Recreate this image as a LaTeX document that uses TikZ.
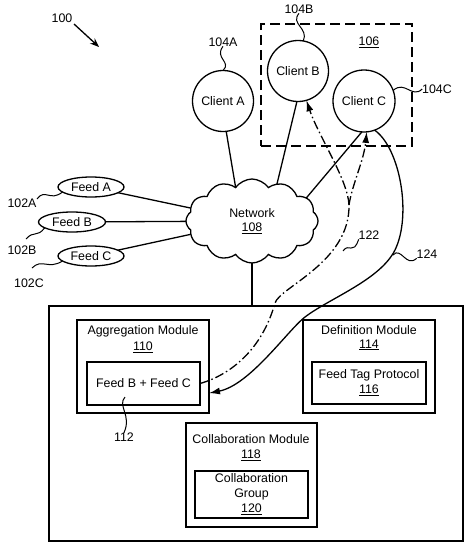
\documentclass[tikz,border=0pt]{standalone}
\usepackage{fontspec}
\setmainfont{Liberation Sans}
\usetikzlibrary{shapes.geometric,shapes.symbols,arrows.meta}
\begin{document}
\begin{tikzpicture}[x=1pt,y=-1pt,
  line width=1.3pt,
  every node/.style={font=\fontsize{12.4}{15}\selectfont, inner sep=0pt, outer sep=0pt},
  box/.style={draw, rectangle, line width=1.3pt},
  client/.style={draw, circle, minimum size=61pt},
  feed/.style={draw, ellipse, minimum width=66pt, minimum height=20pt},
  lead/.style={line width=1pt},
  dd/.style={dash pattern=on 9pt off 3pt on 1.5pt off 3pt},
  tip/.style={-{Latex[length=11pt,width=7pt]}}
]
\useasboundingbox (0,0) rectangle (474,554);

% label 100 and arrow
\node (l100) at (62,18) {100};
\coordinate (s100) at (74,24);
\coordinate (e100) at (99,47);
\draw[-{Stealth[length=9pt,width=7pt]}] (s100) -- (e100);

% dashed group 106
\node[box, dash pattern=on 10pt off 5pt, minimum width=151pt, minimum height=122pt] (g106) at (336.5,85) {};
\node (l106) at (369,42) {\underline{106}};

% clients
\node[client] (clientA) at (223,101) {Client A};
\node[client] (clientB) at (298,71) {Client B};
\node[client, minimum size=62pt] (clientC) at (364,101) {Client C};

\node (l104A) at (223,42) {104A};
\node (l104B) at (299,9) {104B};
\node (l104C) at (437,89) {104C};
\draw[lead] (l104A.south) .. controls (214,58) and (232,62) .. (clientA.north);
\draw[lead] (l104B.south) .. controls (290,24) and (309,28) .. (clientB.80);
\draw[lead] (clientC.20) .. controls (405,80) and (412,99) .. (l104C.west);

% network cloud
\node[cloud, draw, cloud puffs=12, cloud puff arc=110, aspect=1.6, minimum width=132pt, minimum height=84pt] (network) at (252,221) {};
\node (tnet) at (252,213) {Network};
\node (t108) at (252,228) {\underline{108}};

% feeds
\node[feed] (feedA) at (91,187) {Feed A};
\node[feed, minimum width=67pt] (feedB) at (72,222) {Feed B};
\node[feed] (feedC) at (91,256) {Feed C};

\node (l102A) at (22,203) {102A};
\node (l102B) at (22,250) {102B};
\node (l102C) at (29,283) {102C};
\coordinate (s102A) at (37,199);
\coordinate (s102B) at (26,239);
\coordinate (s102C) at (32,268);
\draw[lead] (s102A) .. controls (45,188) and (50,202) .. (feedA.190);
\draw[lead] (s102B) .. controls (34,230) and (37,238) .. (feedB.192);
\draw[lead] (s102C) .. controls (42,258) and (48,270) .. (feedC.190);

% connections to network
\draw (feedA) -- (network);
\draw (feedB) -- (network);
\draw (feedC) -- (network);
\draw (clientA.276) -- (network.116);
\draw (clientB.268) -- (network.56);
\draw (clientC.266) -- (network.23);

% main box and modules
\node[box, minimum width=414pt, minimum height=235pt] (main) at (256,423.5) {};
\draw (network.south) -- (network.south |- main.north);

\node[box, minimum width=132pt, minimum height=93pt] (agg) at (143,366.5) {};
\node (tagg) at (143,331) {Aggregation Module};
\node (t110) at (143,347) {\underline{110}};
\node[box, minimum width=113pt, minimum height=43pt] (feedbc) at (143.5,383.5) {Feed B + Feed C};

\node[box, minimum width=132pt, minimum height=93pt] (def) at (369,366.5) {};
\node (tdef) at (369,330) {Definition Module};
\node (t114) at (369,345) {\underline{114}};
\node[box, minimum width=114pt, minimum height=42pt, align=center] (ftp) at (369,383) {Feed Tag Protocol\\\underline{116}};

\node[box, minimum width=131pt, minimum height=104pt] (collab) at (251.5,475) {};
\node (tcollab) at (251,439) {Collaboration Module};
\node (t118) at (251,455) {\underline{118}};
\node[box, minimum width=113pt, minimum height=47pt, align=center] (cgroup) at (251.5,494.5) {Collaboration\\Group\\\underline{120}};

\node (l112) at (124,437) {112};
\coordinate (s112) at (125,397);
\draw[lead] (s112) .. controls (117,406) and (132,415) .. (l112.north);

% dash-dot 122
\coordinate (split) at (349,205);
\draw[dd] (feedbc.east) .. controls (230,375) and (262,350) .. (275,303) .. controls (280,287) and (350,262) .. (split);
\draw[dd, tip] (split) .. controls (348,180) and (318,135) .. (clientB.286);
\draw[dd, tip] (split) .. controls (352,185) and (364,160) .. (clientC.275);
\node (l122) at (369,235) {122};
\coordinate (s122) at (343,251);
\draw[lead] (s122) .. controls (349,242) and (353,256) .. (l122.south west);

% solid 124
\draw[tip] (clientC.290) .. controls (400,148) and (412,215) .. (395,250) .. controls (380,280) and (330,298) .. (305,317) .. controls (288,330) and (250,385) .. (agg.-22.6);
\node (l124) at (427,254) {124};
\coordinate (s124) at (393,255);
\draw[lead] (s124) .. controls (401,246) and (406,268) .. (l124.south west);
\end{tikzpicture}
\end{document}
